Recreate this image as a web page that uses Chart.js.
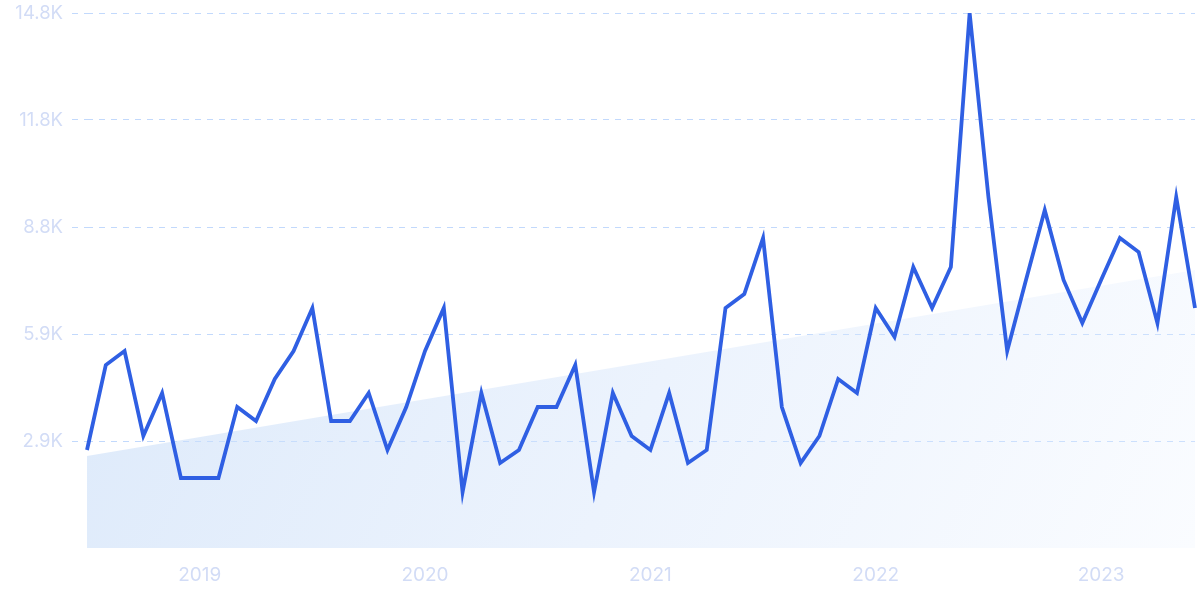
<!DOCTYPE html>
<html>
<head>
<meta charset="utf-8">
<script src="https://cdn.jsdelivr.net/npm/chart.js@4"></script>
<style>
html,body{margin:0;padding:0;background:#fff;}
#wrap{width:1200px;height:600px;position:relative;}
</style>
</head>
<body>
<div id="wrap"><canvas id="c" width="1200" height="600"></canvas></div>
<script>
const months = ["Jul 2018","Aug 2018","Sep 2018","Oct 2018","Nov 2018","Dec 2018",
"Jan 2019","Feb 2019","Mar 2019","Apr 2019","May 2019","Jun 2019","Jul 2019","Aug 2019","Sep 2019","Oct 2019","Nov 2019","Dec 2019",
"Jan 2020","Feb 2020","Mar 2020","Apr 2020","May 2020","Jun 2020","Jul 2020","Aug 2020","Sep 2020","Oct 2020","Nov 2020","Dec 2020",
"Jan 2021","Feb 2021","Mar 2021","Apr 2021","May 2021","Jun 2021","Jul 2021","Aug 2021","Sep 2021","Oct 2021","Nov 2021","Dec 2021",
"Jan 2022","Feb 2022","Mar 2022","Apr 2022","May 2022","Jun 2022","Jul 2022","Aug 2022","Sep 2022","Oct 2022","Nov 2022","Dec 2022",
"Jan 2023","Feb 2023","Mar 2023","Apr 2023","May 2023","Jun 2023"];

const searches = [2711,5062,5450,3098,4288,1936,1936,1936,3900,3513,4675,5450,6639,3513,3513,4288,2711,3900,5450,6639,
1549,4288,2351,2711,3900,3900,5062,1549,4288,3098,2711,4288,2351,2711,6639,7026,8576,3900,2351,3098,
4675,4288,6639,5837,7773,6639,7773,14800,9710,5450,7414,9350,7414,6224,7414,8576,8188,6224,9710,6639];

const trendStart = 2545;
const trendEnd = 7690;

const yMax = 14800;
const yStep = 2960;

const ctx = document.getElementById('c').getContext('2d');

function fillGradient(context){
  const chart = context.chart;
  const a = chart.chartArea;
  if(!a) return 'rgba(220,233,250,1)';
  const g = chart.ctx.createLinearGradient(a.left, a.top, a.right, a.bottom);
  g.addColorStop(0, 'rgba(218,232,250,1)');
  g.addColorStop(0.55, 'rgba(236,243,253,1)');
  g.addColorStop(1, 'rgba(250,252,255,1)');
  return g;
}

new Chart(ctx, {
  type: 'line',
  data: {
    labels: months,
    datasets: [
      {
        label: 'Searches',
        data: searches,
        borderColor: '#2f5fe3',
        borderWidth: 3.8,
        pointRadius: 0,
        tension: 0,
        fill: false,
        borderJoinStyle: 'miter',
        order: 0
      },
      {
        label: 'Trend',
        data: [{x: months[0], y: trendStart}, {x: months[months.length-1], y: trendEnd}],
        borderWidth: 0,
        borderColor: 'rgba(0,0,0,0)',
        pointRadius: 0,
        backgroundColor: fillGradient,
        fill: 'origin',
        tension: 0,
        order: 1
      }
    ]
  },
  options: {
    responsive: false,
    animation: false,
    layout: { padding: { top: 13, right: 5, left: 0, bottom: 0 } },
    plugins: { legend: { display: false }, tooltip: { enabled: false } },
    scales: {
      x: {
        type: 'category',
        offset: false,
        grid: { display: false, drawTicks: false },
        border: { display: false },
        ticks: {
          autoSkip: false,
          maxRotation: 0,
          minRotation: 0,
          padding: 16,
          color: '#d2dcf6',
          font: { family: 'Inter', size: 19 },
          callback: function(v){
            const l = this.getLabelForValue(v);
            return l.startsWith('Jan') ? l.slice(4) : '';
          }
        },
        afterFit: function(s){ s.height = 52; s.paddingLeft = 0; s.paddingRight = 0; }
      },
      y: {
        min: 0,
        max: yMax,
        grid: {
          color: function(c){ return c.tick && c.tick.value === 0 ? 'rgba(0,0,0,0)' : 'rgba(190,215,252,0.75)'; },
          lineWidth: 1,
          tickLength: 15,
          drawTicks: true,
          tickBorderDash: [6,6],
          tickColor: function(c){ return c.tick && c.tick.value === 0 ? 'rgba(0,0,0,0)' : 'rgba(190,215,252,0.75)'; }
        },
        border: { display: false, dash: [6,6] },
        ticks: {
          stepSize: yStep,
          padding: 9,
          color: '#d2dcf6',
          font: { family: 'Inter', size: 18.5 },
          callback: function(v){
            if(v === 0) return '';
            return (Math.floor(v/100)/10).toFixed(1) + 'K';
          }
        },
        afterFit: function(s){ s.width = 87; s.paddingTop = 0; s.paddingBottom = 0; }
      }
    }
  },
  plugins: [{
    id: 'gridOverFill',
    beforeDatasetDraw: function(chart, args){
      if(args.index === 0){
        const y = chart.scales.y;
        y.drawGrid(chart.chartArea);
      }
    }
  }]
});
</script>
</body>
</html>
